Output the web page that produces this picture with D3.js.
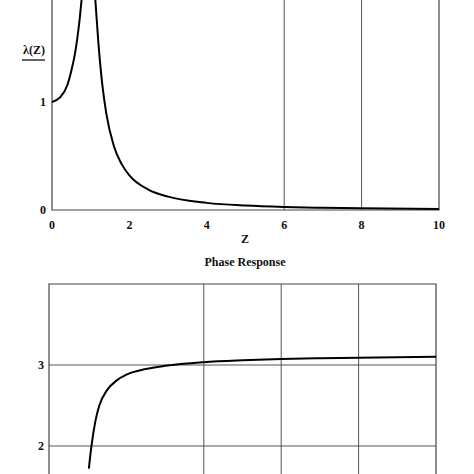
<!DOCTYPE html>
<html>
<head>
<meta charset="utf-8">
<script src="https://cdn.jsdelivr.net/npm/d3@7"></script>
<style>
  body { margin: 0; background: #fff; }
  text { font-family: "Liberation Serif", serif; font-weight: bold; fill: #111; }
</style>
</head>
<body>
<script>
// amplitude response
const ampZ = [0, 0.2, 0.4, 0.5, 0.6, 0.7, 0.8, 0.9, 1.0, 1.1, 1.2, 1.3, 1.4, 1.6, 1.8, 2, 2.5, 3, 4, 5, 6, 7, 8, 10];
const ampV = [1, 1.04, 1.16, 1.29, 1.46, 1.72, 2.08, 2.46, 2.5, 2.05, 1.54, 1.16, 0.9, 0.59, 0.425, 0.32, 0.187, 0.124, 0.066, 0.041, 0.028, 0.021, 0.016, 0.010];
// phase response
const phZ = [1.03, 1.05, 1.1, 1.2, 1.3, 1.5, 1.75, 2, 2.5, 3, 4, 5, 6, 7, 8, 9, 10];
const phV = [1.72, 1.81, 2.01, 2.31, 2.5, 2.69, 2.81, 2.88, 2.95, 2.99, 3.035, 3.058, 3.073, 3.083, 3.091, 3.097, 3.101];
const xTicks = [0, 2, 4, 6, 8, 10];

const svg = d3.select("body").append("svg").attr("width", 474).attr("height", 474);

// ---- top chart
const x1 = d3.scaleLinear().domain([0, 10]).range([52, 439]);
const y1 = d3.scaleLinear().domain([0, 1]).range([210, 102]);
svg.append("defs").append("clipPath").attr("id", "c1")
  .append("rect").attr("x", 52).attr("y", 0).attr("width", 387).attr("height", 210);

const topG = svg.append("g");
topG.selectAll(".g1").data([6, 8]).enter().append("line")
  .attr("x1", d => x1(d)).attr("x2", d => x1(d)).attr("y1", 0).attr("y2", 210)
  .attr("stroke", "#555").attr("stroke-width", 1);
topG.append("path")
  .attr("d", `M52,0V210H439V0`)
  .attr("fill", "none").attr("stroke", "#444").attr("stroke-width", 1.2);
topG.append("path")
  .datum(ampZ.map((z, i) => [z, ampV[i]]))
  .attr("clip-path", "url(#c1)")
  .attr("fill", "none").attr("stroke", "#000").attr("stroke-width", 2)
  .attr("d", d3.line().curve(d3.curveMonotoneX).x(d => x1(d[0])).y(d => y1(d[1])));
topG.selectAll(".xt").data(xTicks).enter().append("text")
  .attr("x", d => x1(d)).attr("y", 229).attr("text-anchor", "middle")
  .attr("font-size", 12).text(d => d);
topG.selectAll(".yt").data([0, 1]).enter().append("text")
  .attr("x", 46).attr("y", d => y1(d) + 4).attr("text-anchor", "end")
  .attr("font-size", 12).text(d => d);
topG.append("text").attr("x", 245).attr("y", 243).attr("text-anchor", "middle")
  .attr("font-size", 12).text("Z");
topG.append("text").attr("x", 34).attr("y", 54).attr("text-anchor", "middle")
  .attr("font-size", 12).text("λ(Z)");
topG.append("line").attr("x1", 22).attr("x2", 45).attr("y1", 60).attr("y2", 60)
  .attr("stroke", "#111").attr("stroke-width", 1.3);

svg.append("text").attr("x", 245).attr("y", 266).attr("text-anchor", "middle")
  .attr("font-size", 12).text("Phase Response");

// ---- bottom chart
const x2 = d3.scaleLinear().domain([0, 10]).range([49, 436]);
const y2 = d3.scaleLinear().domain([2, 3]).range([446, 365]);
const botG = svg.append("g");
botG.selectAll(".g2").data([4, 6, 8]).enter().append("line")
  .attr("x1", d => x2(d)).attr("x2", d => x2(d)).attr("y1", y2(4)).attr("y2", 474)
  .attr("stroke", "#555").attr("stroke-width", 1);
botG.selectAll(".h2").data([2, 3]).enter().append("line")
  .attr("x1", 49).attr("x2", 436).attr("y1", d => y2(d)).attr("y2", d => y2(d))
  .attr("stroke", "#555").attr("stroke-width", 1);
botG.append("path")
  .attr("d", `M49,474V${y2(4)}H436V474`)
  .attr("fill", "none").attr("stroke", "#444").attr("stroke-width", 1.2);
botG.append("path")
  .datum(phZ.map((z, i) => [z, phV[i]]))
  .attr("fill", "none").attr("stroke", "#000").attr("stroke-width", 2)
  .attr("d", d3.line().curve(d3.curveMonotoneX).x(d => x2(d[0])).y(d => y2(d[1])));
botG.selectAll(".yt2").data([2, 3]).enter().append("text")
  .attr("x", 44).attr("y", d => y2(d) + 4).attr("text-anchor", "end")
  .attr("font-size", 12).text(d => d);
</script>
</body>
</html>
